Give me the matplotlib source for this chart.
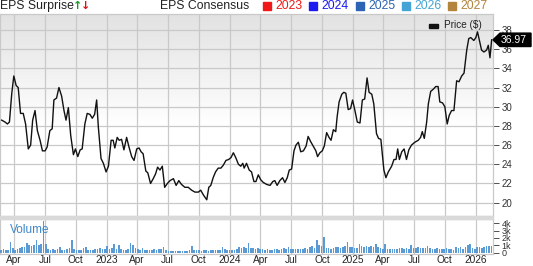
import numpy as np
import matplotlib
matplotlib.use('Agg')
import matplotlib.pyplot as plt
import matplotlib.dates as mdates
from matplotlib.colors import LinearSegmentedColormap
from matplotlib.patches import Rectangle, Polygon

plt.rcParams['font.family'] = ['Liberation Sans', 'DejaVu Sans']

# weekly closing price, days counted from the first plotted week
start = np.datetime64('2022-02-18')
price_days = [5, 15, 22, 28, 35, 41, 48, 54, 61, 69, 76, 84, 91, 97, 104, 111, 119, 126, 134, 140,
              148, 155, 160, 168, 175, 183, 190, 196, 203, 210, 218, 224, 231, 238, 244, 252, 259, 267, 274, 281,
              287, 292, 300, 307, 315, 322, 330, 336, 341, 348, 354, 361, 368,
              376, 383, 391, 398, 406, 413, 419, 425, 433, 439, 447, 455, 462, 468, 475, 482, 489, 497, 505, 515,
              523, 531, 539, 549, 559, 569, 579, 589, 596, 604, 614, 620, 626, 633, 640, 648, 656, 663, 671, 679,
              686, 693, 700, 708, 715, 721, 725, 732, 740, 747, 754, 760, 767, 774, 782, 792, 802, 810, 816, 823,
              831, 839, 846, 853, 859, 866, 873, 879, 886, 893, 901, 909, 915, 922, 930, 938, 943, 950, 957, 963,
              970, 977, 983, 990, 997, 1001, 1007, 1015, 1021, 1027, 1034, 1041, 1047, 1054, 1061, 1069, 1076, 1083, 1090, 1096,
              1104, 1110, 1118, 1124, 1131, 1140, 1146, 1153, 1163, 1170, 1176, 1181, 1186, 1193, 1200, 1207, 1214, 1222, 1232, 1242,
              1249, 1254, 1260, 1267, 1272, 1279, 1286, 1294, 1301, 1306, 1314, 1321, 1328, 1334, 1341, 1348, 1356, 1363, 1371, 1378,
              1386, 1392, 1398, 1407, 1413, 1418, 1423, 1430, 1437, 1445, 1450, 1455, 1460]
price = [28.6, 28.4, 28.2, 28.4, 31.4, 33.2, 32.2, 32.0, 29.3, 29.3, 28.2, 25.6, 26.0, 28.6, 29.6, 27.5, 26.5, 25.4, 25.4, 25.8,
         27.5, 27.7, 30.7, 30.9, 32.0, 31.1, 29.6, 28.6, 29.9, 27.0, 25.0, 25.6, 24.8, 25.5, 25.6, 28.2, 29.3, 29.2, 28.8, 29.2,
         30.7, 27.9, 24.6, 24.1, 23.2, 23.8, 26.5, 26.5, 25.7, 26.8, 26.5, 26.6, 25.5,
         26.8, 25.8, 24.8, 24.4, 25.6, 25.7, 25.3, 25.1, 23.3, 23.1, 22.0, 22.5, 23.0, 23.7, 23.4, 23.8, 21.6, 22.0, 22.3, 22.5,
         21.8, 22.3, 21.9, 21.6, 21.6, 21.3, 21.1, 21.1, 21.3, 20.8, 20.3, 21.6, 21.8, 22.6, 23.2, 23.6, 23.6, 23.9, 24.4, 24.5,
         24.7, 25.2, 24.7, 24.0, 23.8, 24.1, 23.6, 24.1, 23.4, 23.2, 22.2, 22.2, 22.9, 22.4, 22.1, 21.9, 21.8, 22.2, 22.3, 21.8,
         22.3, 22.6, 22.1, 22.6, 23.4, 23.5, 25.4, 26.0, 26.3, 25.3, 25.4, 25.9, 26.9, 26.4, 25.9, 25.4, 24.8, 25.2, 25.4, 25.9,
         27.3, 26.8, 26.5, 27.6, 27.4, 28.9, 30.5, 31.3, 31.5, 31.4, 29.7, 29.8, 30.7, 29.6, 28.4, 28.3, 30.7, 30.8, 33.0, 31.5,
         31.3, 30.3, 27.2, 26.7, 26.6, 23.4, 22.6, 23.2, 23.8, 24.5, 24.5, 25.6, 24.5, 25.3, 25.6, 24.5, 25.5, 26.0, 26.3, 26.5,
         26.8, 27.4, 26.7, 28.4, 30.3, 31.6, 31.8, 32.1, 32.1, 30.5, 30.4, 30.0, 28.2, 29.1, 29.6, 29.6, 32.7, 32.6, 33.2, 33.5,
         35.9, 37.1, 37.2, 36.9, 37.2, 37.8, 37.0, 35.9, 35.7, 35.9, 36.4, 35.1, 36.97]
last_price = 36.97

# weekly volume in thousands
vol_start = np.datetime64('2022-02-21')
volume = [0.45, 0.5, 0.45, 0.4, 1.4, 0.6, 0.35, 0.5, 0.7, 0.8,
          0.75, 1.3, 1.0, 0.9, 1.0, 1.75, 1.0, 1.2, 4.3, 1.2,
          0.5, 0.45, 0.5, 0.45, 0.55, 0.8, 0.45, 0.4, 0.5, 0.6,
          1.75, 0.5, 0.45, 0.4, 0.45, 0.6, 0.8, 0.4, 0.4, 0.35,
          0.5, 0.55, 0.6, 0.5, 0.55, 0.9, 0.55, 0.6, 1.15, 0.5,
          1.0, 0.5, 0.45, 0.4, 0.5, 1.3, 1.0, 0.6, 0.5, 0.45,
          0.6, 0.4, 0.45, 0.4, 0.45, 0.5, 0.45, 0.5, 0.5, 0.8,
          0.4, 0.3, 0.3, 0.25, 0.3, 0.3, 0.25, 0.3, 0.3, 0.3,
          0.35, 0.9, 0.4, 0.35, 0.35, 0.3, 0.35, 0.35, 0.3, 0.35,
          0.4, 0.35, 0.45, 0.45, 0.75, 0.5, 0.35, 0.4, 0.4, 0.45,
          0.5, 0.85, 0.7, 0.75, 0.65, 1.35, 0.6, 0.7, 0.55, 0.6,
          0.55, 0.5, 0.45, 0.55, 0.4, 0.45, 0.5, 0.5, 0.45, 0.55,
          0.6, 0.55, 0.85, 0.55, 0.5, 0.55, 0.5, 0.55, 0.5, 0.6,
          0.55, 0.75, 0.9, 0.65, 1.75, 1.1, 0.9, 2.1, 0.7, 0.65,
          0.55, 0.6, 0.8, 0.75, 0.7, 0.8, 0.9, 1.5, 0.8, 0.75,
          0.7, 0.6, 1.2, 0.9, 0.85, 0.9, 0.85, 0.9, 0.85, 1.25,
          0.8, 0.7, 0.55, 1.2, 0.55, 0.5, 0.5, 0.55, 0.55, 0.7,
          0.65, 0.55, 0.6, 0.55, 1.05, 0.7, 0.65, 0.75, 0.65, 0.65,
          0.7, 0.9, 0.6, 0.55, 0.55, 0.6, 0.5, 0.55, 0.55, 0.6,
          0.55, 0.5, 0.45, 0.8, 0.6, 0.85, 0.5, 0.8, 1.05, 1.15,
          0.6, 0.5, 0.75, 0.85, 0.6, 0.8, 0.9, 0.95, 0.9, 0.85,
          0.9, 0.95, 0.9]

tick_dates = ['2022-04-01', '2022-07-01', '2022-10-01', '2023-01-01', '2023-04-01', '2023-07-01',
              '2023-10-01', '2024-01-01', '2024-04-01', '2024-07-01', '2024-10-01', '2025-01-01',
              '2025-04-01', '2025-07-01', '2025-10-01', '2026-01-01']
tick_labels = ['Apr', 'Jul', 'Oct', '2023', 'Apr', 'Jul', 'Oct', '2024', 'Apr', 'Jul', 'Oct', '2025',
               'Apr', 'Jul', 'Oct', '2026']
price_ticks = [20, 22, 24, 26, 28, 30, 32, 34, 36, 38]
vol_ticks = [0, 1, 2, 3, 4]
vol_labels = ['0', '1k', '2k', '3k', '4k']

eps_years = ['2023', '2024', '2025', '2026', '2027']
eps_colors = ['#f01818', '#1a1af0', '#2c63b4', '#44a4d6', '#b3843c']

W, H = 533, 266


def fx(x):
    return x / W


def fy(y):
    return 1 - y / H


fig = plt.figure(figsize=(W / 100, H / 100), dpi=100)
ax = fig.add_axes([0, fy(216), fx(493), (216 - 14) / H])
axv = fig.add_axes([0, fy(254), fx(493), (254 - 219) / H], sharex=ax)

grid_c = '#c9c9c9'
x0 = mdates.date2num(start)
xlim = (x0, x0 + 1464)
ylim = (18.61, 39.66)

bg = LinearSegmentedColormap.from_list('bg', [(0, '#e2e2e2'), (0.55, '#ffffff'), (1, '#ffffff')])
ax.imshow(np.linspace(0, 1, 256).reshape(-1, 1), cmap=bg, extent=(0, 1, 0, 1),
          transform=ax.transAxes, aspect='auto', zorder=0)

pdates = mdates.date2num(start + np.array(price_days).astype('timedelta64[D]'))
ax.plot(pdates, price, color='#111111', lw=1.0, zorder=3)

ax.set_xlim(*xlim)
ax.set_ylim(*ylim)
ax.set_yticks(price_ticks)
ax.set_xticks(mdates.date2num(np.array(tick_dates, dtype='datetime64[D]')))
ax.grid(True, color=grid_c, lw=0.9)
ax.set_axisbelow(True)
ax.yaxis.tick_right()
ax.tick_params(axis='y', labelsize=7, colors='#333333', length=4, width=0.6, pad=2)
ax.tick_params(axis='x', length=0, labelbottom=False)
for s in ax.spines.values():
    s.set_color(grid_c)
    s.set_linewidth(0.9)

# volume panel
vdates = mdates.date2num(vol_start + (7 * np.arange(len(volume))).astype('timedelta64[D]'))
axv.bar(vdates, volume, width=4.8, color='#5b9bd5', zorder=3)
axv.set_ylim(-0.15, 4.55)
axv.set_yticks(vol_ticks)
axv.set_yticklabels(vol_labels)
axv.yaxis.tick_right()
axv.grid(True, axis='x', color=grid_c, lw=0.9)
axv.set_axisbelow(True)
axv.set_xticks(mdates.date2num(np.array(tick_dates, dtype='datetime64[D]')))
axv.set_xticklabels(tick_labels)
axv.tick_params(axis='x', labelsize=7.3, colors='#222222', length=0, pad=0.5)
axv.tick_params(axis='y', labelsize=6.5, colors='#333333', length=4, width=0.6, pad=2)
axv.set_xlim(*xlim)
for s in axv.spines.values():
    s.set_color(grid_c)
    s.set_linewidth(0.9)
axv.text(0.02, 0.68, 'Volume', transform=axv.transAxes, fontsize=8.5, color='#3b86c8', va='center', zorder=4)

# band between panels
fig.patches.append(Rectangle((0, fy(219)), fx(493), 3 / H, transform=fig.transFigure,
                             color='#d9d9d9', zorder=1))

# header
fig.text(fx(0), fy(6), 'EPS Surprise', fontsize=8.8, color='#222222', va='center', ha='left')
fig.text(fx(73), fy(6), '\u2191', fontsize=8, color='#1a9a1a', va='center', ha='left',
         fontweight='bold', family='DejaVu Sans')
fig.text(fx(81), fy(6), '\u2193', fontsize=8, color='#e01010', va='center', ha='left',
         fontweight='bold', family='DejaVu Sans')
fig.text(fx(160), fy(6), 'EPS Consensus', fontsize=8.8, color='#222222', va='center', ha='left')
sq_x = [263, 309, 356, 402, 448]
for xs, yr, c in zip(sq_x, eps_years, eps_colors):
    fig.patches.append(Rectangle((fx(xs), fy(10)), 8 / W, 8 / H, transform=fig.transFigure, color=c))
    fig.text(fx(xs + 12), fy(6), yr, fontsize=8.8, color=c, va='center', ha='left')

# price legend
fig.patches.append(Rectangle((fx(429), fy(28)), 9 / W, 4.5 / H, transform=fig.transFigure, color='#111111'))
fig.text(fx(444), fy(25.5), 'Price ($)', fontsize=7.2, color='#222222', va='center', ha='left')

# last price tag
bottom, height = fy(216), (216 - 14) / H
yc = (1 - (bottom + (last_price - ylim[0]) / (ylim[1] - ylim[0]) * height)) * H
tag = [(493, yc), (500, yc - 6.7), (531, yc - 6.7), (531, yc + 6.7), (500, yc + 6.7)]
fig.patches.append(Polygon([(fx(a), fy(b)) for a, b in tag], closed=True,
                           transform=fig.transFigure, color='#000000', zorder=5))
fig.text(fx(514), fy(yc), f'{last_price:.2f}', fontsize=7.5, color='white', va='center',
         ha='center', zorder=6)

fig.savefig('out.png', dpi=100)
